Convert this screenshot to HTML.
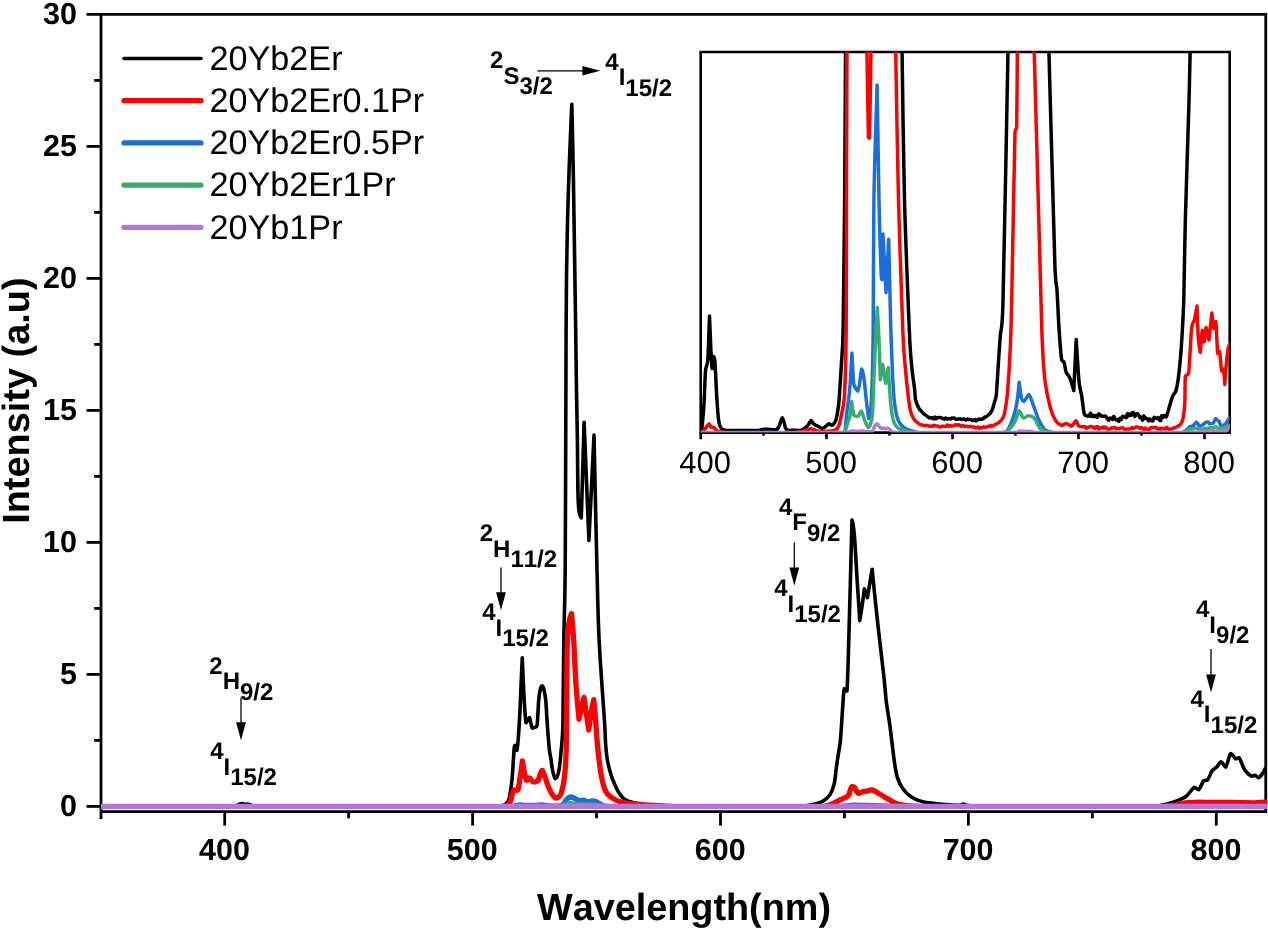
<!DOCTYPE html>
<html lang="en"><head><meta charset="utf-8"><title>Upconversion emission spectra</title>
<style>html,body{margin:0;padding:0;background:#fff}body{width:1268px;height:930px;overflow:hidden}svg{display:block}text{font-family:"Liberation Sans",Arial,Helvetica,sans-serif;fill:#000;font-kerning:none;text-rendering:geometricPrecision}.b{font-weight:bold}.tk{font-weight:bold;font-size:30.5px}.ax{font-weight:bold;font-size:37.8px}.lg{font-size:34.2px}.it{font-size:31px}.an{font-weight:bold;font-size:24px}.c{fill:none;stroke-linejoin:round;stroke-linecap:round}</style></head><body>
<svg width="1268" height="930" viewBox="0 0 1268 930">
<defs><clipPath id="mc"><rect x="101.0" y="14.4" width="1166.2" height="799.1"/></clipPath>
<clipPath id="ic"><rect x="700.7" y="52.0" width="529.0" height="381.8"/></clipPath></defs>
<rect width="1268" height="930" fill="#fff"/>
<g stroke="#000" stroke-width="2.8" fill="none" stroke-linecap="butt">
<path d="M86.50 14.40 H1267.15"/>
<path d="M1265.75 14.40 V812.95"/>
<path d="M101.00 13.00 V819.00"/>
<path d="M101.00 811.55 H1265.75"/>
<path d="M86.5 806.40 H101.00"/>
<path d="M86.5 674.40 H101.00"/>
<path d="M86.5 542.40 H101.00"/>
<path d="M86.5 410.40 H101.00"/>
<path d="M86.5 278.40 H101.00"/>
<path d="M86.5 146.40 H101.00"/>
<path d="M94.2 740.40 H101.00"/>
<path d="M94.2 608.40 H101.00"/>
<path d="M94.2 476.40 H101.00"/>
<path d="M94.2 344.40 H101.00"/>
<path d="M94.2 212.40 H101.00"/>
<path d="M94.2 80.40 H101.00"/>
<path d="M224.70 811.55 V825.6"/>
<path d="M472.60 811.55 V825.6"/>
<path d="M720.50 811.55 V825.6"/>
<path d="M968.40 811.55 V825.6"/>
<path d="M1216.30 811.55 V825.6"/>
<path d="M348.65 811.55 V818.3"/>
<path d="M596.55 811.55 V818.3"/>
<path d="M844.45 811.55 V818.3"/>
<path d="M1092.35 811.55 V818.3"/>
</g>
<g class="c" clip-path="url(#mc)">
<path d="M100.7 806.2 C122.6 806.2 209.3 806.2 232.0 806.1 C237.0 806.0 235.7 805.6 237.0 805.3 C238.3 804.9 239.2 804.3 240.0 804.0 C240.8 803.7 241.2 803.6 242.0 803.6 C242.8 803.6 243.7 804.2 244.5 804.3 C245.3 804.3 246.2 804.1 247.0 804.1 C247.8 804.1 248.7 804.2 249.5 804.4 C250.3 804.6 251.1 805.1 252.0 805.4 C252.9 805.7 252.0 806.0 255.0 806.1 C296.0 806.1 456.7 806.1 498.0 806.0 C502.6 805.9 501.3 805.9 502.6 805.6 C503.9 805.3 504.6 804.9 505.6 804.0 C506.6 803.1 507.8 802.6 508.6 800.4 C509.4 798.2 509.9 794.6 510.5 791.0 C511.1 787.4 511.6 784.2 512.1 779.0 C512.6 773.8 513.0 765.2 513.4 760.0 C513.8 754.8 513.9 750.4 514.2 748.0 C514.5 745.6 514.8 745.4 515.2 745.4 C515.7 745.8 516.4 750.5 516.9 750.5 C517.4 749.3 517.8 743.8 518.3 738.0 C518.8 732.2 519.2 724.7 519.7 716.0 C520.2 707.3 520.6 695.7 521.0 686.0 C521.4 676.3 522.3 657.7 522.3 657.7 C522.3 657.7 522.8 672.1 523.2 680.0 C523.6 687.9 524.0 697.9 524.5 705.0 C525.0 712.1 525.5 720.3 526.0 722.8 C526.5 722.8 526.9 720.9 527.5 720.0 C528.1 719.1 529.0 717.5 529.5 717.5 C530.0 718.0 530.3 721.2 530.8 723.0 C531.3 724.8 531.7 727.4 532.3 728.1 C532.9 728.1 533.7 727.9 534.5 727.5 C535.3 727.1 536.5 727.4 537.0 725.5 C537.5 723.6 537.5 720.3 537.8 716.0 C538.1 711.7 538.3 704.1 538.8 699.5 C539.2 694.9 539.9 690.8 540.5 688.5 C541.1 686.2 541.8 685.8 542.3 685.7 C542.8 685.7 543.1 686.7 543.5 688.0 C543.9 689.3 544.3 691.2 544.7 693.5 C545.1 695.8 545.4 696.1 545.9 702.0 C546.4 707.9 547.0 720.7 547.6 728.7 C548.2 736.7 548.9 745.1 549.4 750.0 C549.9 754.9 550.3 754.7 550.8 758.0 C551.3 761.3 551.8 766.6 552.5 770.0 C553.2 773.4 554.5 777.6 555.3 778.6 C556.1 778.6 556.8 777.9 557.5 776.0 C558.2 774.1 558.9 771.6 559.5 767.3 C560.1 763.0 560.8 753.9 561.2 750.0 C561.6 746.1 561.5 748.7 561.8 743.7 C562.1 738.7 562.7 737.3 563.0 720.0 C563.3 702.7 563.4 665.0 563.8 640.0 C564.2 615.0 564.9 606.7 565.2 570.0 C565.5 533.3 565.6 460.0 565.8 420.0 C565.9 380.0 566.0 354.9 566.1 330.0 C566.2 305.1 566.4 289.0 566.6 270.5 C566.9 252.0 567.2 236.2 567.6 219.0 C568.0 201.8 568.5 186.5 569.2 167.4 C569.9 148.3 571.8 104.2 571.8 104.2 C571.8 104.2 572.8 146.0 573.2 167.0 C573.6 188.0 573.8 202.8 574.2 230.0 C574.6 257.2 575.3 304.2 575.7 330.0 C576.1 355.8 576.1 366.7 576.4 385.0 C576.7 403.3 577.1 420.3 577.4 440.0 C577.7 459.7 577.6 490.0 578.3 503.0 C578.9 516.0 581.3 517.8 581.3 517.8 L584.1 422.3 L588.9 540.4 L594.0 435.0 C594.0 435.0 596.1 535.8 597.0 570.0 C597.9 604.2 597.9 615.0 599.1 640.0 C600.3 665.0 603.3 702.7 604.4 720.0 C605.5 737.3 605.1 737.2 605.6 743.7 C606.1 750.2 606.5 754.5 607.2 759.0 C607.9 763.5 608.8 766.9 609.9 770.9 C611.0 774.9 612.5 779.2 614.0 782.7 C615.5 786.2 616.9 789.4 618.6 792.2 C620.4 795.0 621.9 797.5 624.5 799.3 C627.1 801.1 630.8 801.9 634.2 802.8 C637.6 803.7 640.7 804.3 645.0 804.8 C649.3 805.3 645.0 805.6 660.0 805.8 C685.8 806.0 775.4 806.0 800.0 806.0 C807.5 806.0 805.0 805.8 807.5 805.5 C810.0 805.2 812.3 804.8 815.0 804.0 C817.7 803.2 821.1 802.4 823.6 800.8 C826.1 799.1 828.5 797.0 830.3 794.1 C832.1 791.2 833.3 787.8 834.3 783.3 C835.3 778.8 835.7 772.1 836.4 767.2 C837.1 762.3 837.7 758.3 838.4 753.8 C839.1 749.3 839.7 747.6 840.4 740.3 C841.1 733.0 841.9 718.6 842.5 710.0 C843.1 701.4 843.5 691.9 844.3 688.7 C845.0 688.7 846.1 691.0 847.0 691.0 C847.9 677.9 848.8 638.5 849.6 610.0 C850.4 581.5 852.0 520.1 852.0 520.1 C852.0 520.1 853.5 525.0 854.4 535.5 C855.3 546.0 856.5 570.4 857.3 582.8 C858.1 595.2 858.7 603.7 859.1 610.0 C859.5 616.3 859.7 620.7 859.7 620.7 C859.7 620.7 860.7 615.3 861.5 610.0 C862.3 604.7 864.4 588.7 864.4 588.7 L867.4 597.6 L872.1 569.2 C872.1 569.2 875.0 598.0 876.3 610.0 C877.6 622.0 878.5 630.2 879.8 641.4 C881.1 652.5 882.8 667.1 883.9 676.9 C885.0 686.7 885.5 694.5 886.1 700.0 C886.7 705.5 886.8 705.5 887.5 710.0 C888.2 714.5 889.0 718.5 890.1 726.9 C891.2 735.3 893.0 752.0 894.2 760.5 C895.4 769.0 896.0 773.2 897.5 777.9 C899.0 782.6 900.6 785.6 902.9 788.7 C905.1 791.9 907.9 794.7 911.0 796.8 C914.1 798.9 917.7 800.4 921.7 801.5 C925.7 802.6 930.4 803.0 935.1 803.5 C939.8 804.0 945.9 804.5 950.0 804.8 C954.1 805.1 957.8 805.3 960.0 805.3 C962.2 805.2 962.3 804.0 963.5 804.0 C964.7 804.0 965.1 805.1 967.0 805.4 C968.9 805.7 967.0 805.7 975.0 805.8 C1005.5 805.8 1119.2 805.8 1150.0 805.8 C1160.0 805.8 1156.3 805.8 1160.0 805.5 C1163.7 805.0 1168.0 804.0 1172.3 802.5 C1176.6 801.0 1182.2 799.0 1185.8 796.5 C1189.4 794.0 1192.0 788.5 1194.1 787.4 C1196.2 787.4 1197.0 789.7 1198.6 789.7 C1200.2 788.6 1202.4 782.2 1203.9 780.6 C1205.4 779.9 1206.2 780.6 1207.6 779.9 C1209.0 778.3 1210.6 773.0 1212.1 770.9 C1213.6 768.8 1215.2 768.6 1216.7 767.1 C1218.2 765.6 1219.7 761.8 1221.2 761.8 C1222.7 761.8 1224.1 767.1 1225.7 767.1 C1227.3 765.7 1229.1 754.9 1230.7 753.5 C1232.3 753.5 1234.1 758.1 1235.5 758.8 C1236.9 758.8 1237.7 757.8 1239.2 757.8 C1240.7 759.6 1242.5 766.3 1244.5 769.4 C1246.5 772.5 1249.5 775.1 1251.3 776.1 C1253.0 776.1 1253.8 775.4 1255.0 775.4 C1256.2 775.6 1257.4 777.6 1258.8 777.6 C1260.2 777.1 1262.2 774.0 1263.3 772.4 C1264.4 770.8 1265.2 768.6 1265.6 767.8" stroke="#000" stroke-width="3.6"/>
<path d="M503.0 806.4 C503.8 806.2 505.3 806.4 506.8 805.6 C508.3 804.6 509.4 803.7 510.4 801.6 C511.4 799.5 511.3 797.4 512.0 795.0 C512.7 792.6 513.1 790.7 513.9 789.8 C514.7 789.8 515.2 790.5 516.0 790.5 C516.8 790.5 517.2 790.5 518.0 789.8 C518.8 787.3 519.1 783.8 520.0 778.0 C520.9 772.2 522.4 760.8 522.4 760.8 C522.4 760.8 523.5 768.1 524.3 772.0 C525.1 775.9 525.6 778.9 526.3 780.3 C527.0 780.3 527.3 779.5 528.0 779.0 C528.7 778.5 529.1 778.0 529.9 778.0 C530.7 778.4 531.2 780.2 532.0 781.0 C532.8 781.8 533.2 782.0 534.0 782.1 C534.8 782.1 535.2 781.9 536.0 781.5 C536.8 781.1 537.3 781.5 538.2 780.3 C539.1 778.8 539.5 776.0 540.3 774.0 C541.1 772.0 541.4 770.3 542.3 770.3 C543.2 770.9 543.8 773.8 545.0 777.0 C546.2 780.2 546.8 782.8 548.2 786.2 C549.6 789.6 550.5 791.6 552.0 794.0 C553.5 796.4 554.6 797.5 555.9 798.1 C557.2 798.1 557.4 798.0 558.5 797.0 C559.6 796.0 560.1 796.9 561.2 793.3 C562.3 789.7 563.2 786.7 564.2 779.1 C565.2 771.5 565.5 767.3 566.0 755.5 C566.5 743.7 566.3 743.1 566.6 720.0 C566.9 696.9 566.6 661.3 567.4 640.0 C568.4 618.7 571.6 613.7 571.6 613.7 C571.6 613.7 572.8 625.7 573.7 640.0 C574.6 654.3 574.9 669.1 576.0 685.0 C577.1 700.9 579.0 719.3 579.0 719.3 C579.0 719.3 580.5 712.4 581.5 708.0 C582.5 703.6 584.0 697.4 584.0 697.4 C584.0 697.4 585.5 708.5 586.5 715.0 C587.5 721.5 588.8 730.0 588.8 730.0 C588.8 730.0 590.3 718.1 591.3 712.0 C592.3 705.9 593.8 699.7 593.8 699.7 C593.8 699.7 594.8 710.0 595.6 720.0 C596.4 730.0 596.7 738.2 597.9 749.6 C599.1 761.0 600.0 768.5 601.5 776.8 C603.0 785.1 603.7 787.0 605.6 791.0 C607.5 795.0 608.2 794.8 610.9 796.9 C613.6 799.0 615.2 800.3 619.2 801.6 C623.2 802.9 625.8 802.8 631.0 803.4 C636.2 804.0 639.2 804.3 645.0 804.8 C650.8 805.3 654.6 805.4 660.0 805.7 C665.4 806.0 669.6 806.3 672.0 806.4" stroke="#FE0000" stroke-width="5.3"/>
<path d="M822.0 806.4 C823.1 806.2 825.0 806.4 827.6 805.6 C830.2 804.8 832.3 803.7 835.0 802.5 C837.7 801.3 838.5 800.7 841.1 799.4 C843.7 798.1 846.0 797.8 847.8 796.1 C849.6 794.4 849.2 792.9 850.0 791.0 C850.8 789.1 850.9 787.4 851.8 786.7 C852.7 786.7 853.6 786.7 854.5 787.4 C855.4 788.3 855.7 789.8 856.5 791.0 C857.3 792.2 857.6 793.1 858.5 793.4 C859.4 793.4 859.9 792.9 861.0 792.5 C862.1 792.1 862.5 791.7 863.9 791.4 C865.3 791.1 866.4 791.1 868.0 790.8 C869.6 790.5 870.0 789.8 872.0 789.8 C874.0 790.2 875.6 791.6 878.0 793.0 C880.4 794.4 881.7 795.4 884.1 796.8 C886.5 798.2 887.6 798.9 890.0 800.2 C892.4 801.5 893.2 802.5 896.2 803.5 C899.2 804.5 900.6 804.7 905.0 805.3 C909.4 805.9 915.4 806.2 918.0 806.4" stroke="#FE0000" stroke-width="5.3"/>
<path d="M1166.0 806.4 C1167.2 806.2 1168.8 806.0 1172.0 805.4 C1175.2 804.8 1178.4 804.1 1182.0 803.5 C1185.6 802.9 1186.4 802.9 1190.0 802.6 C1193.6 802.3 1196.0 802.2 1200.0 802.2 C1204.0 802.2 1205.6 802.5 1210.0 802.5 C1214.4 802.5 1217.6 802.3 1222.0 802.3 C1226.4 802.3 1228.0 802.3 1232.0 802.4 C1236.0 802.5 1238.0 802.6 1242.0 802.7 C1246.0 802.8 1248.4 802.9 1252.0 802.9 C1255.6 802.9 1257.0 802.7 1260.0 802.5 C1263.0 802.3 1265.6 802.2 1267.0 802.1" stroke="#FE0000" stroke-width="5.3"/>
<path d="M513.0 806.4 C513.6 806.2 514.6 805.8 516.0 805.5 C517.4 805.2 518.4 804.8 520.0 804.8 C521.6 804.8 522.0 805.3 524.0 805.4 C526.0 805.5 527.6 805.5 530.0 805.5 C532.4 805.5 533.6 805.5 536.0 805.4 C538.4 805.3 539.6 804.9 542.0 804.9 C544.4 805.0 545.2 805.5 548.0 805.7 C550.8 805.9 553.1 806.1 556.0 806.1 C558.9 806.0 560.6 806.1 562.4 805.2 C564.2 804.3 564.0 802.8 565.0 801.5 C566.0 800.2 566.4 799.4 567.5 798.5 C568.6 797.6 569.4 797.1 570.7 797.0 C572.0 797.0 572.7 797.4 574.0 798.0 C575.3 798.6 575.8 799.3 577.0 799.8 C578.2 800.3 578.9 800.5 580.2 800.6 C581.5 800.6 582.5 800.2 583.7 800.2 C584.9 800.3 585.0 800.9 586.0 801.2 C587.0 801.5 587.5 801.8 588.5 801.8 C589.5 801.8 589.9 801.4 591.0 801.2 C592.1 801.0 592.7 800.8 593.8 800.8 C594.9 800.9 595.4 801.3 596.5 801.8 C597.6 802.3 598.1 802.6 599.1 803.2 C600.1 803.8 600.5 804.3 601.5 804.8 C602.5 805.3 602.7 805.5 604.0 805.8 C605.3 806.1 607.2 806.3 608.0 806.4" stroke="#1A6FDF" stroke-width="5.3"/>
<path d="M842.0 806.4 C843.2 806.3 845.8 806.0 848.0 805.7 C850.2 805.4 850.6 805.2 853.0 805.1 C855.4 805.1 857.0 805.4 860.0 805.4 C863.0 805.4 864.0 805.3 868.0 805.3 C872.0 805.4 875.6 805.8 880.0 806.0 C884.4 806.2 888.0 806.3 890.0 806.4" stroke="#1A6FDF" stroke-width="5.3"/>
<path d="M561.0 806.4 C561.8 806.2 563.5 806.0 564.8 805.6 C566.1 805.2 566.3 804.7 567.5 804.3 C568.7 803.9 569.4 803.5 570.7 803.5 C572.0 803.5 572.1 803.9 574.0 804.2 C575.9 804.5 577.2 804.7 580.0 804.8 C582.8 804.9 585.2 804.9 588.0 804.9 C590.8 804.9 592.0 804.8 594.0 804.8 C596.0 805.0 596.2 805.4 598.0 805.7 C599.8 806.0 602.0 806.3 603.0 806.4" stroke="#37AD6B" stroke-width="5.3"/>
<path d="M100.7 806.4 L1267.0 806.4" stroke="#B177DE" stroke-width="5.3"/>
</g>
<text class="tk" x="76.9" y="815.7" text-anchor="end">0</text>
<text class="tk" x="76.9" y="683.7" text-anchor="end">5</text>
<text class="tk" x="76.9" y="551.7" text-anchor="end">10</text>
<text class="tk" x="76.9" y="419.7" text-anchor="end">15</text>
<text class="tk" x="76.9" y="287.7" text-anchor="end">20</text>
<text class="tk" x="76.9" y="155.7" text-anchor="end">25</text>
<text class="tk" x="76.9" y="23.7" text-anchor="end">30</text>
<text class="tk" x="224.4" y="859.6" text-anchor="middle">400</text>
<text class="tk" x="472.3" y="859.6" text-anchor="middle">500</text>
<text class="tk" x="720.2" y="859.6" text-anchor="middle">600</text>
<text class="tk" x="968.1" y="859.6" text-anchor="middle">700</text>
<text class="tk" x="1216.0" y="859.6" text-anchor="middle">800</text>
<text class="ax" x="537.0" y="919.8">Wavelength(nm)</text>
<text class="ax" style="font-size:37.9px" transform="translate(29.1 523.8) rotate(-90)">Intensity (a.u)</text>
<path d="M124 58.5 H201" stroke="#000" stroke-width="3.6" stroke-linecap="round" fill="none"/>
<text class="lg" x="209.5" y="69.8">20Yb2Er</text>
<path d="M124 100.7 H201" stroke="#FE0000" stroke-width="5.3" stroke-linecap="round" fill="none"/>
<text class="lg" x="209.5" y="112.0">20Yb2Er0.1Pr</text>
<path d="M124 142.9 H201" stroke="#1A6FDF" stroke-width="5.3" stroke-linecap="round" fill="none"/>
<text class="lg" x="209.5" y="154.2">20Yb2Er0.5Pr</text>
<path d="M124 185.1 H201" stroke="#37AD6B" stroke-width="5.3" stroke-linecap="round" fill="none"/>
<text class="lg" x="209.5" y="196.4">20Yb2Er1Pr</text>
<path d="M124 227.3 H201" stroke="#B177DE" stroke-width="5.3" stroke-linecap="round" fill="none"/>
<text class="lg" x="209.5" y="238.6">20Yb1Pr</text>
<g stroke="#000" stroke-width="2.6" fill="none">
<path d="M699.40 52.00 H1229.70 V433.90"/>
<path d="M700.70 52.00 V439.2"/>
<path d="M700.70 432.60 H1229.70"/>
<path d="M826.50 432.60 V439.2"/>
<path d="M952.50 432.60 V439.2"/>
<path d="M1078.50 432.60 V439.2"/>
<path d="M1204.50 432.60 V439.2"/>
<path d="M763.50 432.60 V435.6"/>
<path d="M889.50 432.60 V435.6"/>
<path d="M1015.50 432.60 V435.6"/>
<path d="M1141.50 432.60 V435.6"/>
</g>
<g class="c" clip-path="url(#ic)" stroke-width="3.5">
<path d="M701.6 432.0 C701.9 428.4 703.4 413.5 703.9 405.3 C704.4 397.1 705.0 376.7 705.5 370.7 C706.0 364.7 707.3 367.5 707.8 360.2 C708.3 352.9 709.5 316.0 709.5 316.0 C709.5 316.0 710.7 345.6 711.0 352.6 C711.3 359.6 712.1 368.5 712.1 368.5 C712.1 368.5 712.9 357.6 713.3 356.5 C713.7 356.5 714.3 356.5 714.8 360.2 C715.3 365.7 716.3 389.7 716.8 397.7 C717.3 405.7 718.1 416.3 718.6 420.3 C719.1 424.3 720.0 426.5 720.8 427.8 C721.6 429.1 723.8 429.9 724.6 430.3 C725.4 430.5 726.3 430.5 727.0 430.5 C727.6 430.5 728.7 430.5 729.3 430.5 C729.9 430.5 731.0 430.7 731.7 430.7 C732.3 430.7 733.4 430.4 734.0 430.4 C734.7 430.4 735.8 430.6 736.4 430.6 C737.0 430.6 738.1 430.6 738.7 430.5 C739.4 430.5 740.5 430.4 741.1 430.4 C741.7 430.4 742.8 430.6 743.5 430.6 C744.1 430.6 745.2 430.4 745.8 430.4 C746.4 430.4 747.5 430.6 748.2 430.6 C748.8 430.6 749.9 430.4 750.5 430.4 C751.2 430.4 752.3 430.4 752.9 430.4 C753.5 430.5 754.6 430.6 755.2 430.6 C755.9 430.6 756.8 430.6 757.6 430.5 C758.4 430.4 759.9 430.0 761.0 429.8 C762.1 429.6 764.5 428.9 765.7 428.9 C766.9 428.9 768.6 429.4 770.0 429.5 C771.4 429.6 774.8 429.8 775.9 429.8 C777.0 429.5 777.9 428.5 778.5 427.5 C779.1 426.5 780.0 423.3 780.5 422.0 C781.0 420.7 781.8 417.7 782.3 417.7 C782.8 417.7 783.6 420.6 784.0 422.0 C784.4 423.4 785.0 426.9 785.5 428.0 C786.0 429.1 787.2 429.9 787.8 430.2 C788.4 430.4 789.5 430.4 790.1 430.4 C790.7 430.4 791.8 430.2 792.4 430.1 C793.0 430.1 794.0 430.2 794.6 430.2 C795.3 430.2 796.3 430.3 796.9 430.4 C797.5 430.4 798.6 430.5 799.2 430.5 C799.8 430.5 800.7 430.5 801.5 430.2 C802.3 429.8 804.4 428.6 805.3 427.8 C806.2 427.0 807.7 425.5 808.5 424.5 C809.3 423.5 810.4 420.7 811.0 420.5 C811.6 420.5 812.4 422.7 813.0 423.3 C813.6 423.9 814.6 424.4 815.4 424.9 C816.2 425.4 818.1 426.3 819.0 426.8 C819.9 427.3 821.5 428.4 822.4 428.4 C823.3 428.4 824.6 427.1 825.5 426.5 C826.4 425.9 828.3 423.9 829.0 423.7 C829.7 423.7 830.3 424.6 830.8 424.8 C831.3 425.0 831.9 425.2 832.5 425.2 C833.1 424.7 834.9 422.5 835.6 420.8 C836.3 419.1 837.0 415.4 837.5 412.6 C838.0 409.8 838.6 406.3 839.1 400.0 C839.6 393.7 840.8 374.8 841.3 365.5 C841.8 356.2 842.7 352.1 843.1 330.0 C843.5 307.9 844.3 238.7 844.6 200.0 C844.9 161.3 845.5 61.3 845.6 40.0" stroke="#000"/>
<path d="M901.9 40.0 C902.2 61.3 903.5 161.3 904.5 200.0 C905.5 238.7 908.4 307.9 909.3 330.0 C910.2 352.1 910.9 357.6 911.6 365.5 C912.3 373.4 914.1 384.5 914.6 389.1 C915.1 393.7 915.0 397.5 915.6 400.0 C916.2 402.5 917.8 406.4 918.8 408.2 C919.8 410.0 921.9 412.0 923.2 413.2 C924.5 414.4 927.4 416.4 928.2 417.0 C929.0 417.6 929.1 417.6 929.5 417.7 C929.9 417.8 930.5 417.9 930.9 417.9 C931.2 417.9 931.8 417.7 932.2 417.7 C932.6 417.8 933.2 418.9 933.5 418.9 C933.9 418.8 934.5 417.1 934.9 417.1 C935.3 417.1 935.9 418.7 936.2 418.8 C936.6 418.8 937.2 417.9 937.6 417.8 C938.0 417.6 938.6 417.6 939.0 417.5 C939.3 417.5 939.9 417.5 940.3 417.6 C940.7 417.6 941.3 417.9 941.6 418.0 C942.0 418.2 942.6 418.3 943.0 418.5 C943.4 418.7 944.0 419.2 944.3 419.2 C944.7 419.1 945.3 418.0 945.7 418.0 C946.0 418.0 946.6 418.7 947.0 418.8 C947.3 419.0 948.0 419.0 948.3 419.0 C948.7 419.0 949.3 418.5 949.6 418.5 C950.0 418.5 950.6 418.9 951.0 418.9 C951.3 418.9 951.9 418.1 952.3 418.0 C952.6 418.0 953.3 418.0 953.6 418.1 C954.0 418.1 954.6 418.2 954.9 418.4 C955.3 418.6 955.9 419.3 956.3 419.4 C956.6 419.4 957.3 419.2 957.6 419.1 C957.9 419.0 958.5 419.0 958.8 419.0 C959.2 419.0 959.7 418.8 960.1 418.8 C960.4 418.9 961.0 419.3 961.3 419.4 C961.7 419.4 962.2 419.2 962.6 419.2 C962.9 419.1 963.5 418.9 963.8 418.9 C964.1 419.0 964.7 419.8 965.0 419.9 C965.4 419.9 965.9 419.9 966.3 419.8 C966.6 419.6 967.2 418.9 967.5 418.9 C967.9 418.9 968.4 419.5 968.8 419.6 C969.1 419.6 969.7 419.5 970.0 419.5 C970.3 419.5 970.9 419.5 971.2 419.7 C971.6 419.8 972.2 420.4 972.5 420.5 C972.8 420.5 973.4 420.4 973.8 420.3 C974.1 420.2 974.7 419.5 975.0 419.5 C975.3 419.6 975.9 421.0 976.2 421.0 C976.6 421.0 977.1 420.5 977.5 420.2 C977.9 419.9 978.6 419.2 979.0 419.0 C979.4 419.0 980.1 419.2 980.5 419.2 C980.9 419.2 981.6 419.1 982.0 419.0 C982.4 418.9 983.0 419.0 983.3 418.8 C983.7 418.6 984.3 417.2 984.7 417.0 C985.0 417.0 985.1 417.0 986.0 417.0 C986.9 416.2 990.5 413.3 991.6 411.3 C992.7 409.3 993.9 404.3 994.5 402.1 C995.1 399.9 995.9 399.0 996.3 395.0 C996.7 391.0 997.3 380.2 997.8 372.3 C998.3 364.4 999.6 344.5 1000.3 335.7 C1001.0 326.9 1001.8 335.7 1002.9 306.0 C1004.0 266.6 1007.5 75.5 1008.2 40.0" stroke="#000"/>
<path d="M1048.6 40.0 C1049.5 70.5 1053.9 235.8 1055.0 269.1 C1056.1 290.0 1056.5 282.3 1057.0 290.0 C1057.5 297.7 1058.3 317.3 1058.9 326.6 C1059.5 335.9 1060.9 354.8 1061.6 359.5 C1062.3 362.2 1063.4 360.5 1064.0 362.2 C1064.6 363.9 1065.4 370.2 1066.2 372.3 C1067.0 374.4 1068.8 375.4 1069.8 377.8 C1070.8 380.2 1073.8 390.6 1073.8 390.6 L1076.2 339.4 C1076.2 339.4 1078.3 373.8 1079.0 381.4 C1079.7 389.0 1081.0 391.7 1081.7 396.1 C1082.4 400.5 1083.5 411.6 1084.4 414.3 C1085.3 416.2 1087.4 416.0 1088.1 416.2 C1088.8 416.2 1089.0 416.2 1089.3 415.9 C1089.7 415.5 1090.2 413.0 1090.5 413.0 C1090.9 413.1 1091.4 416.2 1091.8 416.5 C1092.1 416.5 1092.7 415.3 1093.0 415.3 C1093.3 415.3 1094.0 416.8 1094.4 416.8 C1094.8 416.8 1095.4 415.5 1095.8 415.5 C1096.2 415.6 1096.8 417.3 1097.2 417.3 C1097.6 417.0 1098.2 414.1 1098.6 413.8 C1099.0 413.8 1099.7 414.5 1100.0 414.8 C1100.3 415.1 1100.9 416.1 1101.2 416.3 C1101.5 416.3 1102.1 416.0 1102.4 416.0 C1102.7 416.0 1103.3 416.3 1103.6 416.3 C1103.9 416.3 1104.5 415.9 1104.8 415.9 C1105.1 415.9 1105.7 416.1 1106.0 416.5 C1106.3 416.9 1107.0 418.6 1107.3 419.0 C1107.7 419.5 1108.3 420.2 1108.7 420.2 C1109.0 420.0 1109.7 418.3 1110.0 418.0 C1110.3 418.0 1110.9 418.0 1111.2 418.1 C1111.6 418.3 1112.2 419.5 1112.5 419.5 C1112.8 419.3 1113.4 416.2 1113.8 416.2 C1114.1 416.2 1114.7 418.6 1115.0 419.1 C1115.3 419.6 1115.9 420.0 1116.2 420.1 C1116.6 420.1 1117.2 419.5 1117.5 419.5 C1117.8 419.7 1118.4 421.4 1118.8 421.4 C1119.1 421.2 1119.7 418.4 1120.0 418.2 C1120.3 418.2 1120.9 419.8 1121.2 419.8 C1121.6 419.6 1122.2 416.7 1122.5 416.3 C1122.8 416.3 1123.4 416.5 1123.8 416.6 C1124.1 416.7 1124.7 416.9 1125.0 417.0 C1125.3 417.1 1125.9 417.7 1126.2 417.7 C1126.5 417.3 1127.1 413.8 1127.4 413.6 C1127.7 413.6 1128.3 415.9 1128.6 415.9 C1128.9 415.9 1129.5 413.9 1129.8 413.9 C1130.1 413.9 1130.7 415.6 1131.0 415.6 C1131.3 415.5 1131.9 413.5 1132.2 413.1 C1132.6 412.7 1133.2 412.6 1133.5 412.6 C1133.8 413.0 1134.4 416.3 1134.8 416.6 C1135.1 416.6 1135.7 415.2 1136.0 414.8 C1136.3 414.4 1137.0 413.5 1137.3 413.5 C1137.7 413.6 1138.3 414.6 1138.7 415.2 C1139.0 415.7 1139.7 417.3 1140.0 417.6 C1140.3 417.6 1140.9 417.2 1141.2 417.2 C1141.6 417.5 1142.2 420.3 1142.5 420.3 C1142.8 420.1 1143.4 416.0 1143.8 415.8 C1144.1 415.8 1144.7 418.2 1145.0 418.5 C1145.3 418.5 1145.9 418.3 1146.2 418.3 C1146.6 418.4 1147.2 418.6 1147.5 419.0 C1147.8 419.4 1148.4 421.1 1148.8 421.1 C1149.1 421.1 1149.6 419.0 1150.0 418.9 C1150.4 418.9 1151.0 420.5 1151.4 420.7 C1151.8 420.9 1152.4 420.9 1152.8 420.9 C1153.2 420.4 1153.8 417.7 1154.2 417.3 C1154.6 417.3 1155.2 417.8 1155.6 418.0 C1156.0 418.1 1156.7 418.4 1157.0 418.4 C1157.3 418.3 1157.9 417.4 1158.2 417.4 C1158.5 417.6 1159.1 419.9 1159.4 420.3 C1159.7 420.6 1160.3 420.6 1160.6 420.6 C1160.9 420.0 1161.5 416.0 1161.8 415.6 C1162.1 415.6 1162.7 417.5 1163.0 417.5 C1163.3 417.5 1163.8 415.6 1164.1 415.4 C1164.4 415.4 1164.9 415.4 1165.2 415.6 C1165.5 415.8 1165.7 417.0 1166.3 417.0 C1166.9 415.8 1168.8 408.6 1169.5 406.3 C1170.2 404.0 1170.9 401.5 1171.4 400.0 C1171.9 398.5 1172.6 396.4 1173.2 395.1 C1173.8 393.8 1175.3 393.3 1176.1 390.3 C1176.9 387.3 1178.2 379.9 1179.0 372.9 C1179.8 365.9 1181.3 347.8 1181.9 338.0 C1182.5 328.2 1183.3 314.8 1183.8 299.3 C1184.3 283.8 1184.6 247.7 1185.3 221.7 C1186.0 195.7 1188.2 128.5 1188.9 104.3 C1189.6 80.1 1190.2 48.6 1190.4 40.0" stroke="#000"/>
<path d="M701.5 432.5 C701.7 432.4 702.3 432.0 702.8 431.5 C703.3 431.0 704.4 429.5 705.0 428.8 C705.6 428.1 706.7 426.7 707.3 426.0 C707.9 425.3 708.7 423.8 709.2 423.8 C709.7 424.0 710.7 426.8 711.2 427.3 C711.7 427.3 712.7 427.2 713.3 427.2 C713.9 427.5 714.8 428.7 715.5 429.3 C716.2 429.9 717.7 431.4 718.6 431.8 C719.5 432.0 721.5 432.0 722.0 432.0" stroke="#FE0000"/>
<path d="M798.0 432.0 C798.5 431.9 800.4 431.8 801.5 431.6 C802.6 431.4 804.7 430.9 806.0 430.5 C807.3 430.1 809.8 428.8 811.0 428.8 C812.2 428.8 813.9 430.0 815.0 430.3 C816.1 430.6 817.5 431.2 819.2 431.3 C820.9 431.3 826.2 431.3 828.0 431.3 C829.8 431.2 831.8 431.1 833.0 430.8 C834.2 430.5 836.0 429.9 836.9 429.0 C837.8 428.1 838.7 426.2 839.4 424.0 C840.1 421.8 841.3 415.8 841.9 412.6 C842.5 409.4 843.7 404.7 844.1 400.0 C844.5 395.3 844.9 386.6 845.2 377.3 C845.5 368.0 846.0 353.6 846.2 330.0 C846.4 306.4 846.4 238.7 846.5 200.0 C846.6 161.3 846.9 61.3 847.0 40.0" stroke="#FE0000"/>
<path d="M866.8 40.0 C867.0 53.0 868.0 124.2 868.4 137.3 C868.8 138.2 869.1 138.2 869.5 138.2 C869.9 125.2 870.9 53.1 871.1 40.0" stroke="#FE0000"/>
<path d="M895.5 40.0 C895.9 61.3 897.5 161.3 898.5 200.0 C899.5 238.7 901.9 307.9 902.8 330.0 C903.7 352.1 904.4 356.8 905.1 365.5 C905.8 374.2 907.6 390.4 908.1 395.0 C908.6 399.6 908.4 397.8 908.7 400.0 C909.0 402.2 909.9 408.9 910.6 411.4 C911.3 413.9 912.8 417.4 913.7 418.9 C914.6 420.4 916.5 421.9 917.5 422.7 C918.5 423.5 920.2 424.5 921.3 424.9 C922.4 425.3 925.2 425.4 926.0 425.5 C926.8 425.5 927.2 425.4 927.6 425.4 C928.0 425.5 928.8 426.1 929.2 426.2 C929.6 426.2 930.1 426.2 930.5 426.2 C930.8 426.2 931.4 426.4 931.8 426.4 C932.1 426.3 932.7 425.9 933.1 425.8 C933.4 425.7 934.0 425.3 934.4 425.3 C934.7 425.4 935.3 426.0 935.7 426.1 C936.0 426.1 936.6 426.0 936.9 426.0 C937.3 426.1 937.9 426.2 938.2 426.4 C938.6 426.5 939.2 427.1 939.5 427.1 C939.9 427.1 940.5 426.7 940.8 426.6 C941.2 426.5 941.8 426.4 942.1 426.3 C942.5 426.3 943.1 426.3 943.4 426.3 C943.7 426.3 944.4 426.4 944.7 426.4 C945.1 426.4 945.7 426.4 946.0 426.3 C946.4 426.2 947.0 425.1 947.4 425.1 C947.7 425.1 948.3 426.4 948.7 426.5 C949.0 426.5 949.7 425.7 950.0 425.6 C950.3 425.6 950.9 425.9 951.2 426.0 C951.6 426.0 952.1 426.0 952.5 426.0 C952.8 426.0 953.4 425.9 953.7 425.7 C954.1 425.6 954.6 425.0 955.0 424.8 C955.3 424.8 955.9 424.9 956.2 424.9 C956.5 424.9 957.1 425.0 957.5 425.0 C957.8 425.0 958.4 424.8 958.7 424.8 C959.1 424.9 959.7 425.6 960.0 425.8 C960.3 426.0 960.9 426.2 961.2 426.2 C961.5 426.2 962.0 425.5 962.4 425.4 C962.7 425.4 963.2 425.5 963.5 425.6 C963.8 425.8 964.4 426.5 964.7 426.6 C965.0 426.6 965.7 426.3 966.0 426.2 C966.4 426.2 967.0 426.2 967.4 426.3 C967.7 426.4 968.3 426.8 968.7 426.8 C969.0 426.8 969.6 426.5 970.0 426.4 C970.4 426.4 971.0 426.4 971.3 426.5 C971.7 426.6 972.3 426.9 972.6 426.9 C973.0 427.0 973.6 426.9 974.0 427.0 C974.3 427.1 974.9 427.8 975.3 427.9 C975.7 427.9 976.3 427.8 976.7 427.6 C977.1 427.5 977.8 427.0 978.1 427.0 C978.5 427.1 979.2 428.4 979.6 428.5 C980.0 428.5 980.6 427.9 981.0 427.8 C981.4 427.8 981.9 427.9 982.2 427.9 C982.6 427.8 983.2 427.0 983.5 426.9 C983.8 426.9 984.4 426.9 984.8 427.0 C985.1 427.0 985.6 427.3 986.0 427.3 C986.4 427.3 987.0 426.8 987.4 426.7 C987.8 426.5 988.4 426.5 988.8 426.3 C989.2 426.2 989.8 425.5 990.2 425.5 C990.6 425.6 991.2 426.5 991.6 426.5 C992.0 426.5 992.1 426.0 993.0 425.5 C993.9 425.0 997.4 423.7 998.7 422.7 C1000.0 421.7 1002.2 419.2 1003.0 417.7 C1003.8 416.2 1004.4 414.9 1005.0 411.3 C1005.6 407.7 1007.0 399.5 1007.7 390.6 C1008.4 381.7 1009.9 357.0 1010.4 344.9 C1010.9 332.8 1011.1 328.4 1011.7 300.0 C1012.3 271.6 1014.3 155.3 1015.0 132.2 C1015.7 126.6 1016.4 132.2 1016.7 126.6 C1017.0 114.3 1017.3 51.5 1017.4 40.0" stroke="#FE0000"/>
<path d="M1033.9 40.0 C1034.8 74.7 1039.9 259.3 1041.0 300.0 C1042.1 340.7 1041.9 334.0 1042.4 344.9 C1042.9 355.8 1044.1 373.4 1045.1 381.4 C1046.1 389.4 1048.4 400.1 1049.7 405.2 C1051.0 410.3 1053.6 417.1 1055.2 419.8 C1056.8 422.5 1060.1 424.8 1061.6 425.3 C1063.1 425.3 1064.9 423.5 1066.2 423.5 C1067.5 423.6 1070.4 426.2 1071.7 426.2 C1073.0 425.8 1074.9 420.7 1075.9 420.7 C1076.9 420.7 1077.8 425.4 1079.0 426.2 C1080.2 426.8 1084.0 426.5 1085.0 426.8 C1086.0 427.1 1085.9 428.5 1086.2 428.5 C1086.6 428.5 1087.2 427.4 1087.5 427.2 C1087.8 427.2 1088.4 427.4 1088.8 427.4 C1089.1 427.2 1089.7 426.5 1090.0 426.4 C1090.3 426.4 1090.9 426.4 1091.2 426.5 C1091.6 426.6 1092.2 427.1 1092.5 427.2 C1092.8 427.2 1093.4 427.1 1093.8 427.1 C1094.1 427.2 1094.7 428.6 1095.0 428.6 C1095.3 428.6 1095.9 427.2 1096.2 426.9 C1096.6 426.7 1097.2 426.6 1097.5 426.6 C1097.8 426.9 1098.4 428.9 1098.8 429.1 C1099.1 429.1 1099.7 428.1 1100.0 428.0 C1100.3 428.0 1101.0 428.1 1101.3 428.1 C1101.7 428.0 1102.3 427.1 1102.7 427.1 C1103.0 427.1 1103.6 428.2 1104.0 428.2 C1104.4 428.1 1105.0 426.9 1105.3 426.9 C1105.7 426.9 1106.3 427.8 1106.7 428.2 C1107.0 428.5 1107.6 429.2 1108.0 429.4 C1108.4 429.4 1109.0 429.2 1109.3 429.1 C1109.7 429.0 1110.3 428.9 1110.7 428.7 C1111.0 428.5 1111.6 427.7 1112.0 427.6 C1112.4 427.6 1113.0 427.9 1113.3 427.9 C1113.7 427.8 1114.3 427.4 1114.7 427.4 C1115.0 427.5 1115.6 428.8 1116.0 428.9 C1116.4 428.9 1117.0 428.3 1117.3 428.3 C1117.7 428.4 1118.3 429.0 1118.7 429.0 C1119.0 429.0 1119.6 428.5 1120.0 428.3 C1120.4 428.1 1121.0 427.9 1121.3 427.9 C1121.7 427.8 1122.3 427.6 1122.7 427.6 C1123.0 427.7 1123.6 428.8 1124.0 429.1 C1124.4 429.4 1125.0 429.5 1125.3 429.5 C1125.7 429.5 1126.3 429.2 1126.7 429.2 C1127.0 429.1 1127.6 429.1 1128.0 429.1 C1128.4 429.1 1129.0 429.1 1129.3 429.1 C1129.7 429.1 1130.3 429.1 1130.7 428.9 C1131.0 428.7 1131.6 427.6 1132.0 427.5 C1132.4 427.5 1133.0 428.2 1133.3 428.3 C1133.7 428.3 1134.3 428.0 1134.7 427.9 C1135.0 427.7 1135.6 427.1 1136.0 427.0 C1136.4 427.0 1137.0 427.0 1137.3 427.0 C1137.7 427.1 1138.3 427.5 1138.7 427.6 C1139.0 427.8 1139.6 428.2 1140.0 428.2 C1140.4 428.2 1141.0 427.6 1141.3 427.6 C1141.7 427.6 1142.3 428.5 1142.7 428.7 C1143.0 429.0 1143.6 429.4 1144.0 429.4 C1144.4 429.3 1145.0 428.1 1145.3 428.1 C1145.7 428.1 1146.3 429.2 1146.7 429.4 C1147.0 429.5 1147.6 429.5 1148.0 429.5 C1148.4 429.5 1149.0 429.5 1149.3 429.4 C1149.7 429.2 1150.3 428.2 1150.7 427.9 C1151.0 427.6 1151.6 427.6 1152.0 427.5 C1152.4 427.5 1153.0 427.6 1153.3 427.6 C1153.7 427.6 1154.3 427.5 1154.7 427.5 C1155.0 427.5 1155.6 427.5 1156.0 427.5 C1156.4 427.7 1157.0 428.4 1157.3 428.6 C1157.7 428.9 1158.3 429.3 1158.7 429.3 C1159.0 429.3 1159.6 428.3 1160.0 428.3 C1160.4 428.3 1161.0 429.2 1161.3 429.2 C1161.7 429.2 1162.3 428.3 1162.6 428.2 C1163.0 428.2 1163.6 428.6 1164.0 428.7 C1164.3 428.8 1164.9 429.0 1165.3 429.0 C1165.6 428.8 1166.2 427.2 1166.6 427.2 C1167.0 427.2 1167.6 428.4 1167.9 428.7 C1168.3 428.9 1168.9 429.3 1169.2 429.3 C1169.6 429.3 1170.2 429.0 1170.6 429.0 C1170.9 428.9 1171.5 429.0 1171.9 428.9 C1172.2 428.8 1173.0 428.3 1173.2 428.2 C1173.2 428.1 1173.2 428.2 1173.2 428.0 C1173.7 427.8 1176.0 427.3 1177.0 426.8 C1178.0 426.3 1180.0 425.1 1180.8 424.0 C1181.6 422.9 1182.5 420.8 1183.0 418.9 C1183.5 417.0 1184.0 412.0 1184.3 409.5 C1184.6 407.0 1184.8 404.4 1184.9 400.0 C1185.0 395.6 1184.9 380.3 1185.4 376.7 C1185.9 373.1 1187.9 376.7 1188.7 372.9 C1189.5 366.5 1190.8 335.5 1191.6 328.4 C1192.4 321.3 1193.8 322.7 1194.5 319.7 C1195.2 316.7 1197.0 306.1 1197.0 306.1 C1197.0 306.1 1197.9 331.8 1198.3 338.0 C1198.7 344.2 1200.3 352.5 1200.3 352.5 L1202.2 330.3 L1204.1 341.9 L1206.1 327.4 L1209.0 340.0 L1211.9 312.9 C1211.9 312.9 1213.3 327.2 1213.8 328.4 C1214.3 328.4 1215.3 321.6 1215.8 321.6 C1216.3 324.9 1217.2 349.5 1217.7 353.5 C1218.2 353.5 1219.1 351.6 1219.6 351.6 C1220.1 353.9 1221.1 368.6 1221.6 370.9 C1222.1 370.9 1223.1 369.0 1223.5 369.0 C1223.9 370.8 1224.8 384.5 1224.8 384.5 C1224.8 384.5 1225.9 368.1 1226.4 363.2 C1226.9 358.3 1227.7 350.4 1228.3 347.7 C1228.9 345.0 1230.6 343.6 1231.0 343.0" stroke="#FE0000"/>
<path d="M843.8 432.2 C844.0 431.9 844.7 432.2 845.1 430.3 C845.5 427.7 846.4 416.5 846.8 412.6 C847.2 408.7 847.9 404.9 848.4 401.0 C848.9 397.1 849.7 389.6 850.2 383.2 C850.7 376.8 851.9 353.1 851.9 353.1 C851.9 353.1 853.2 378.5 853.7 383.2 C854.2 387.9 855.0 387.0 855.5 388.0 C856.0 389.0 857.3 390.9 857.8 390.9 C858.3 390.4 859.0 386.9 859.5 384.0 C860.0 381.1 861.1 370.5 861.6 369.0 C862.1 369.0 862.6 371.4 863.0 373.0 C863.4 374.6 863.8 376.9 864.3 380.8 C864.8 384.7 865.9 397.0 866.5 402.0 C867.1 407.0 868.7 418.6 868.7 418.6 C868.7 418.6 870.8 412.7 871.4 400.9 C872.0 389.1 872.9 356.8 873.2 330.0 C873.5 303.2 873.4 232.7 873.9 200.0 C874.4 167.3 877.1 85.1 877.1 85.1 C877.1 85.1 878.5 174.6 879.0 200.0 C879.5 225.4 880.8 264.7 881.2 275.3 C881.6 279.8 881.8 279.8 882.0 279.8 C882.2 274.3 883.0 233.9 883.0 233.9 L886.0 292.6 L888.7 239.2 C888.7 239.2 889.9 292.6 890.2 305.4 C890.5 318.2 890.7 325.4 891.0 335.0 C891.3 344.6 892.3 368.6 892.7 377.3 C893.1 386.0 893.7 394.9 894.2 400.0 C894.7 405.1 896.0 412.7 896.7 415.8 C897.4 418.9 898.8 421.7 899.8 423.3 C900.8 424.9 903.0 426.9 904.3 427.8 C905.6 428.7 908.2 429.8 909.9 430.4 C911.6 431.0 916.1 432.0 917.0 432.2" stroke="#1A6FDF"/>
<path d="M1004.5 432.2 C1004.9 432.0 1006.4 432.2 1007.5 430.5 C1008.6 428.6 1011.9 421.6 1013.1 418.0 C1014.3 414.4 1016.0 408.2 1016.8 403.4 C1017.6 398.6 1019.2 382.3 1019.2 382.3 C1019.2 382.3 1020.7 395.3 1021.4 397.9 C1022.1 400.5 1023.1 401.5 1024.1 401.5 C1025.1 401.1 1027.8 394.6 1029.0 394.6 C1030.2 395.1 1032.0 401.8 1033.3 405.2 C1034.6 408.6 1037.2 416.6 1038.7 419.8 C1040.2 423.0 1043.0 427.5 1044.2 429.0 C1045.4 430.5 1047.0 430.8 1048.0 431.2 C1049.0 431.6 1051.5 432.1 1052.0 432.2" stroke="#1A6FDF"/>
<path d="M1183.0 432.2 C1183.2 432.1 1183.9 431.7 1184.2 431.5 C1184.6 431.3 1185.2 431.1 1185.5 430.8 C1185.8 430.5 1186.4 429.5 1186.7 429.3 C1187.0 429.1 1187.6 429.3 1187.9 429.1 C1188.2 428.8 1188.8 427.7 1189.1 427.3 C1189.4 427.0 1190.0 426.6 1190.3 426.5 C1190.6 426.4 1191.2 426.4 1191.6 426.3 C1191.9 426.2 1192.5 426.1 1192.8 425.9 C1193.2 425.7 1193.8 425.0 1194.1 424.6 C1194.4 424.2 1195.0 423.5 1195.3 423.2 C1195.7 422.9 1196.3 422.1 1196.6 422.1 C1196.9 422.2 1197.5 423.4 1197.8 423.9 C1198.2 424.4 1198.8 425.6 1199.1 425.9 C1199.4 426.2 1200.0 426.2 1200.4 426.2 C1200.7 426.1 1201.3 425.7 1201.6 425.5 C1202.0 425.4 1202.5 425.2 1202.9 424.9 C1203.3 424.6 1203.9 423.8 1204.3 423.5 C1204.6 423.2 1205.3 422.7 1205.6 422.5 C1206.0 422.3 1206.7 422.1 1207.0 422.1 C1207.3 422.1 1207.9 422.1 1208.2 422.1 C1208.5 422.4 1209.0 423.5 1209.3 423.7 C1209.6 423.7 1210.1 423.7 1210.5 423.7 C1210.9 423.7 1211.6 423.7 1212.0 423.6 C1212.5 423.5 1213.2 423.2 1213.6 422.7 C1214.0 422.2 1214.4 420.7 1214.7 420.2 C1215.0 419.6 1215.4 418.6 1215.8 418.6 C1216.2 418.6 1217.0 420.0 1217.4 420.4 C1217.8 420.7 1218.6 420.5 1219.0 421.2 C1219.4 421.9 1220.2 425.0 1220.6 425.6 C1221.0 426.1 1221.5 426.1 1221.8 426.1 C1222.2 426.0 1222.7 425.4 1223.1 425.2 C1223.5 425.0 1224.2 424.7 1224.7 424.5 C1225.1 424.2 1225.8 423.8 1226.2 423.3 C1226.6 422.8 1227.3 421.3 1227.7 420.6 C1228.0 420.0 1228.7 419.0 1229.1 418.4 C1229.5 417.8 1230.7 416.3 1231.0 416.0" stroke="#1A6FDF"/>
<path d="M844.2 432.2 C844.4 431.9 845.2 431.2 845.7 429.7 C846.2 428.2 847.8 422.4 848.3 420.8 C848.8 419.2 849.1 420.1 849.6 417.5 C850.1 414.9 851.7 401.5 851.7 401.5 C851.7 401.5 853.1 413.1 853.7 415.1 C854.3 416.4 855.7 416.3 856.3 416.4 C856.9 416.4 857.8 416.4 858.5 415.8 C859.2 415.1 860.5 411.1 861.4 411.1 C862.3 411.8 864.0 418.8 864.9 421.0 C865.8 423.2 867.6 427.0 868.3 427.4 C869.0 427.4 869.9 425.9 870.5 424.0 C871.1 422.1 872.1 420.6 872.6 412.8 C873.1 405.0 873.8 379.6 874.4 365.5 C875.0 351.4 877.3 307.4 877.3 307.4 C877.3 307.4 878.7 332.2 879.1 341.8 C879.5 351.4 880.3 379.7 880.3 379.7 L882.7 364.3 L885.6 383.2 L888.3 367.8 C888.3 367.8 889.8 393.2 890.4 400.0 C891.0 406.8 892.2 415.5 892.9 418.9 C893.6 422.3 894.6 423.9 895.4 425.2 C896.2 426.5 897.9 428.0 899.2 428.7 C900.5 429.4 903.9 430.1 905.5 430.6 C907.1 431.1 910.3 432.0 911.0 432.2" stroke="#37AD6B"/>
<path d="M1005.5 432.2 C1005.9 431.9 1007.2 431.7 1008.5 430.3 C1009.8 428.9 1013.6 424.3 1015.0 421.7 C1016.4 419.1 1018.1 411.2 1019.2 410.7 C1020.3 410.7 1021.9 417.3 1023.2 418.0 C1024.5 418.0 1027.2 415.8 1028.7 415.8 C1030.2 415.8 1032.7 416.4 1034.2 418.0 C1035.7 419.6 1038.4 426.4 1039.7 428.1 C1041.0 429.8 1042.9 430.3 1044.0 430.8 C1045.1 431.3 1047.5 432.0 1048.0 432.2" stroke="#37AD6B"/>
<path d="M1184.5 432.2 C1184.7 432.1 1185.6 431.5 1186.0 431.2 C1186.4 430.9 1187.1 430.3 1187.5 430.0 C1187.9 429.7 1188.4 429.4 1188.7 429.2 C1189.0 429.1 1189.5 428.8 1189.8 428.8 C1190.1 428.8 1190.7 428.9 1191.0 429.0 C1191.3 429.1 1192.1 429.3 1192.4 429.3 C1192.8 429.2 1193.5 428.7 1193.9 428.6 C1194.2 428.4 1195.0 428.1 1195.3 428.1 C1195.6 428.1 1196.2 428.2 1196.5 428.4 C1196.8 428.5 1197.3 429.0 1197.7 429.1 C1198.0 429.1 1198.5 428.7 1198.8 428.7 C1199.1 428.7 1199.7 428.9 1200.0 429.0 C1200.3 429.1 1201.0 429.3 1201.3 429.4 C1201.7 429.4 1202.3 429.3 1202.7 429.3 C1203.0 429.2 1203.6 428.9 1204.0 428.8 C1204.4 428.7 1205.0 428.4 1205.3 428.3 C1205.7 428.2 1206.3 428.2 1206.7 428.2 C1207.0 428.2 1207.6 428.4 1208.0 428.4 C1208.4 428.4 1209.0 428.1 1209.3 428.0 C1209.7 427.9 1210.3 427.8 1210.7 427.8 C1211.0 427.8 1211.7 428.0 1212.0 428.0 C1212.3 428.0 1212.9 427.8 1213.3 427.7 C1213.6 427.6 1214.2 427.0 1214.5 426.9 C1214.9 426.8 1215.4 426.8 1215.8 426.8 C1216.2 426.9 1216.9 427.5 1217.2 427.8 C1217.6 428.1 1218.4 429.0 1218.7 429.0 C1219.0 429.0 1219.5 428.1 1219.8 428.1 C1220.1 428.1 1220.7 428.5 1221.0 428.5 C1221.3 428.4 1221.8 427.5 1222.1 427.5 C1222.4 427.5 1222.9 428.0 1223.2 428.2 C1223.6 428.5 1224.1 429.3 1224.4 429.3 C1224.7 429.3 1225.4 428.3 1225.8 428.0 C1226.1 427.7 1226.8 427.3 1227.1 426.9 C1227.5 426.6 1228.2 425.8 1228.5 425.6 C1228.8 425.5 1229.4 425.6 1229.8 425.5 C1230.1 425.4 1230.8 424.6 1231.0 424.5" stroke="#37AD6B"/>
<path d="M701.0 432.4 C715.5 432.4 831.1 432.4 846.0 432.4 C850.0 432.3 849.3 431.4 850.0 431.3 C850.7 431.2 852.3 430.9 853.0 430.9 C853.7 430.9 856.1 431.4 857.0 431.4 C857.9 431.4 860.6 430.9 861.5 430.9 C862.4 430.9 865.0 431.4 866.0 431.5 C867.0 431.6 871.1 431.8 872.0 431.8 C872.9 431.3 874.1 427.3 874.6 426.5 C875.1 425.7 876.6 423.7 877.1 423.7 C877.6 423.7 878.9 426.0 879.3 426.5 C879.7 427.0 881.1 428.5 881.5 428.7 C881.9 428.7 883.0 428.1 883.4 428.1 C883.8 428.1 885.1 428.8 885.6 428.8 C886.1 428.8 887.4 428.1 887.9 428.1 C888.4 428.2 889.8 429.4 890.3 429.8 C890.8 430.2 892.2 431.5 892.9 431.8 C893.6 432.1 892.9 432.3 897.0 432.4 C909.1 432.4 1001.8 432.4 1014.0 432.4 C1019.5 432.3 1018.4 431.2 1019.5 431.1 C1020.6 431.1 1024.0 431.4 1025.0 431.4 C1026.0 431.4 1028.9 431.2 1030.0 431.2 C1031.1 431.3 1030.0 432.3 1036.0 432.4 C1052.7 432.4 1180.4 432.4 1197.0 432.4 C1202.0 432.3 1200.9 431.4 1202.0 431.3 C1203.1 431.3 1206.8 431.5 1208.0 431.5 C1209.2 431.5 1212.8 431.0 1214.0 431.0 C1215.2 431.0 1218.8 431.3 1220.0 431.3 C1221.2 431.3 1225.3 431.3 1226.2 431.2 C1227.1 430.8 1228.6 428.0 1229.1 427.5 C1229.6 427.0 1230.8 426.1 1231.0 426.0" stroke="#B177DE"/>
</g>
<rect x="699.40" y="432.45" width="531.60" height="1.45" fill="#000"/>
<text class="it" x="705.1" y="473.2" text-anchor="middle">400</text>
<text class="it" x="831.1" y="473.2" text-anchor="middle">500</text>
<text class="it" x="957.1" y="473.2" text-anchor="middle">600</text>
<text class="it" x="1083.1" y="473.2" text-anchor="middle">700</text>
<text class="it" x="1209.1" y="473.2" text-anchor="middle">800</text>
<text class="an" x="490.1" y="83.8"><tspan dy="-15.7">2</tspan><tspan dy="15.7">S</tspan><tspan dy="10.4">3/2</tspan></text>
<path d="M537.3 70.8 H584" stroke="#000" stroke-width="1.3" fill="none"/>
<path d="M582.4 66.0 L582.4 75.6 L600.2 70.8 Z" fill="#000"/>
<text class="an" x="605.3" y="85.2"><tspan dy="-15.7">4</tspan><tspan dy="15.7">I</tspan><tspan dy="10.4">15/2</tspan></text>
<text class="an" x="479.7" y="556.7"><tspan dy="-15.7">2</tspan><tspan dy="15.7">H</tspan><tspan dy="10.4">11/2</tspan></text>
<path d="M501.0 567.4 V593.3" stroke="#000" stroke-width="1.3" fill="none"/>
<path d="M496.1 592.3 L505.9 592.3 L501.0 610.3 Z" fill="#000"/>
<text class="an" x="482.2" y="635.9"><tspan dy="-15.7">4</tspan><tspan dy="15.7">I</tspan><tspan dy="10.4">15/2</tspan></text>
<text class="an" x="778.9" y="530.4"><tspan dy="-15.7">4</tspan><tspan dy="15.7">F</tspan><tspan dy="10.4">9/2</tspan></text>
<path d="M794.3 542.4 V568.4" stroke="#000" stroke-width="1.3" fill="none"/>
<path d="M789.4 567.4 L799.2 567.4 L794.3 585.4 Z" fill="#000"/>
<text class="an" x="774.2" y="611.7"><tspan dy="-15.7">4</tspan><tspan dy="15.7">I</tspan><tspan dy="10.4">15/2</tspan></text>
<text class="an" x="209.3" y="689.4"><tspan dy="-15.7">2</tspan><tspan dy="15.7">H</tspan><tspan dy="10.4">9/2</tspan></text>
<path d="M241.0 697.4 V723.2" stroke="#000" stroke-width="1.3" fill="none"/>
<path d="M236.1 722.2 L245.9 722.2 L241.0 740.2 Z" fill="#000"/>
<text class="an" x="210.2" y="774.8"><tspan dy="-15.7">4</tspan><tspan dy="15.7">I</tspan><tspan dy="10.4">15/2</tspan></text>
<text class="an" x="1196.0" y="632.8"><tspan dy="-15.7">4</tspan><tspan dy="15.7">I</tspan><tspan dy="10.4">9/2</tspan></text>
<path d="M1211.0 649.0 V675.6" stroke="#000" stroke-width="1.3" fill="none"/>
<path d="M1206.1 674.6 L1215.9 674.6 L1211.0 692.6 Z" fill="#000"/>
<text class="an" x="1190.5" y="722.2"><tspan dy="-15.7">4</tspan><tspan dy="15.7">I</tspan><tspan dy="10.4">15/2</tspan></text>
</svg></body></html>
